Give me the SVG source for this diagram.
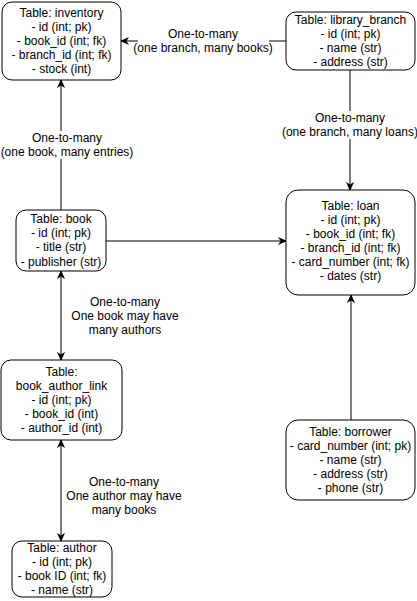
<svg xmlns="http://www.w3.org/2000/svg" width="417" height="601" viewBox="0 0 417 601">
<style>
.box{fill:#fff;stroke:#000;stroke-width:1}
.t{font-family:"Liberation Sans",Arial,Helvetica,sans-serif;font-size:12px;fill:#000;text-anchor:middle;dominant-baseline:central}
.ln{fill:none;stroke:#000;stroke-width:1}
.lb{fill:#fff}
</style>
<defs>
<marker id="ah" viewBox="0 0 10 10" refX="9" refY="5" markerWidth="9" markerHeight="9" markerUnits="userSpaceOnUse" orient="auto-start-reverse">
<path d="M0,0.5 L10,5 L0,9.5 L3,5 Z" fill="#000"/>
</marker>
</defs>
<rect width="417" height="601" fill="#fff"/>
<g id="connectors">
<g id="e-branch-inventory">
<line class="ln" x1="286" y1="41" x2="121" y2="41" marker-end="url(#ah)"/>
<rect class="lb" x="138" y="27" width="131" height="28"/>
<text class="t" x="203" y="34">One-to-many</text>
<text class="t" x="203" y="48">(one branch, many books)</text>
</g>
<g id="e-book-inventory">
<line class="ln" x1="61" y1="210" x2="61" y2="80" marker-end="url(#ah)"/>
<rect class="lb" x="3" y="131" width="129" height="28"/>
<text class="t" x="67" y="138">One-to-many</text>
<text class="t" x="67" y="152">(one book, many entries)</text>
</g>
<g id="e-branch-loan">
<line class="ln" x1="350" y1="70" x2="350" y2="190" marker-end="url(#ah)"/>
<rect class="lb" x="289" y="111" width="126" height="28"/>
<text class="t" x="350" y="118">One-to-many</text>
<text class="t" x="350" y="132">(one branch, many loans)</text>
</g>
<g id="e-book-loan">
<line class="ln" x1="106" y1="241" x2="286" y2="241" marker-end="url(#ah)"/>
</g>
<g id="e-book-link">
<line class="ln" x1="61" y1="271" x2="61" y2="360" marker-start="url(#ah)" marker-end="url(#ah)"/>
<text class="t" x="125" y="302">One-to-many</text>
<text class="t" x="125" y="316">One book may have</text>
<text class="t" x="125" y="330">many authors</text>
</g>
<g id="e-link-author">
<line class="ln" x1="61" y1="440" x2="61" y2="541" marker-start="url(#ah)" marker-end="url(#ah)"/>
<text class="t" x="124" y="482">One-to-many</text>
<text class="t" x="124" y="496">One author may have</text>
<text class="t" x="124" y="510">many books</text>
</g>
<g id="e-borrower-loan">
<line class="ln" x1="351" y1="420" x2="351" y2="295" marker-end="url(#ah)"/>
</g>
</g>
<g id="inventory">
<rect class="box" x="2" y="2" width="119" height="78" rx="10"/>
<text class="t" x="61.5" y="13">Table: inventory</text>
<text class="t" x="61.5" y="27">- id (int; pk)</text>
<text class="t" x="61.5" y="41">- book_id (int; fk)</text>
<text class="t" x="61.5" y="55">- branch_id (int; fk)</text>
<text class="t" x="61.5" y="69">- stock (int)</text>
</g>
<g id="library_branch">
<rect class="box" x="286" y="12" width="129" height="58" rx="10"/>
<text class="t" x="350.5" y="20">Table: library_branch</text>
<text class="t" x="350.5" y="34">- id (int; pk)</text>
<text class="t" x="350.5" y="48">- name (str)</text>
<text class="t" x="350.5" y="62">- address (str)</text>
</g>
<g id="book">
<rect class="box" x="16" y="210" width="90" height="61" rx="10"/>
<text class="t" x="61" y="219">Table: book</text>
<text class="t" x="61" y="233">- id (int; pk)</text>
<text class="t" x="61" y="247">- title (str)</text>
<text class="t" x="61" y="262">- publisher (str)</text>
</g>
<g id="loan">
<rect class="box" x="286" y="190" width="129" height="105" rx="12"/>
<text class="t" x="350.5" y="206">Table: loan</text>
<text class="t" x="350.5" y="220">- id (int; pk)</text>
<text class="t" x="350.5" y="234">- book_id (int; fk)</text>
<text class="t" x="350.5" y="248">- branch_id (int; fk)</text>
<text class="t" x="350.5" y="262">- card_number (int; fk)</text>
<text class="t" x="350.5" y="276">- dates (str)</text>
</g>
<g id="book_author_link">
<rect class="box" x="1" y="360" width="121" height="80" rx="10"/>
<text class="t" x="61.5" y="372">Table:</text>
<text class="t" x="61.5" y="386">book_author_link</text>
<text class="t" x="61.5" y="400">- id (int; pk)</text>
<text class="t" x="61.5" y="414">- book_id (int)</text>
<text class="t" x="61.5" y="428">- author_id (int)</text>
</g>
<g id="borrower">
<rect class="box" x="286" y="420" width="129" height="80" rx="12"/>
<text class="t" x="350.5" y="432">Table: borrower</text>
<text class="t" x="350.5" y="446">- card_number (int; pk)</text>
<text class="t" x="350.5" y="460">- name (str)</text>
<text class="t" x="350.5" y="474">- address (str)</text>
<text class="t" x="350.5" y="488">- phone (str)</text>
</g>
<g id="author">
<rect class="box" x="12" y="541" width="100" height="56" rx="10"/>
<text class="t" x="62" y="548">Table: author</text>
<text class="t" x="62" y="562">- id (int; pk)</text>
<text class="t" x="62" y="576">- book ID (int; fk)</text>
<text class="t" x="62" y="590">- name (str)</text>
</g>
</svg>
